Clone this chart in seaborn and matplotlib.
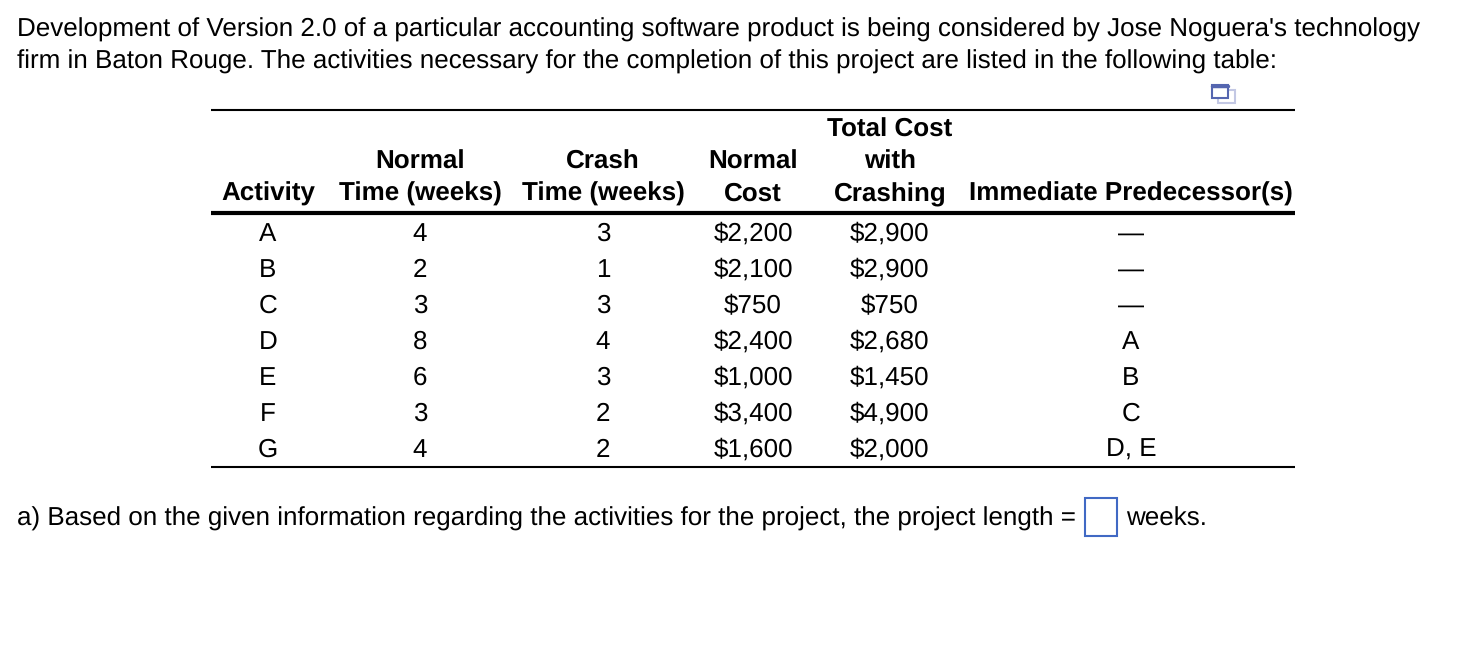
import matplotlib.pyplot as plt
import seaborn as sns
import pandas as pd
from matplotlib.patches import Rectangle

# table values
activity = ["A", "B", "C", "D", "E", "F", "G"]
normal_time = [4, 2, 3, 8, 6, 3, 4]
crash_time = [3, 1, 3, 4, 3, 2, 2]
normal_cost = ["$2,200", "$2,100", "$750", "$2,400", "$1,000", "$3,400", "$1,600"]
crash_cost = ["$2,900", "$2,900", "$750", "$2,680", "$1,450", "$4,900", "$2,000"]
predecessors = ["—", "—", "—", "A", "B", "C", "D, E"]

intro = ["Development of Version 2.0 of a particular accounting software product is being considered by Jose Noguera's technology",
         "firm in Baton Rouge. The activities necessary for the completion of this project are listed in the following table:"]
question = "a) Based on the given information regarding the activities for the project, the project length ="

df = pd.DataFrame({
    "Activity": activity,
    "Normal\nTime (weeks)": normal_time,
    "Crash\nTime (weeks)": crash_time,
    "Normal\nCost": normal_cost,
    "Total Cost\nwith\nCrashing": crash_cost,
    "Immediate Predecessor(s)": predecessors,
})

sns.set_theme(style="white")
plt.rcParams['font.family'] = ['Liberation Sans', 'DejaVu Sans']
plt.rcParams['text.hinting'] = 'none'

fs = 18.72
fig = plt.figure(figsize=(14.62, 6.6), dpi=100)
ax = fig.add_axes([0, 0, 1, 1])
ax.set_xlim(0, 1462)
ax.set_ylim(660, 0)
ax.axis("off")

# intro text
ax.text(17, 37, intro[0], fontsize=fs, va="baseline", color="black")
ax.text(17, 69, intro[1], fontsize=fs, va="baseline", color="black")

# table
col_x = [268, 420, 603, 753, 890, 1131]
row_y = [241, 277, 313, 349, 385, 421, 457]
line_h = 32
for x, col in zip(col_x, df.columns):
    parts = col.split("\n")
    for i, part in enumerate(reversed(parts)):
        ax.text(x, 201 - i * line_h, part, fontsize=fs, fontweight="bold", ha="center", va="baseline", color="black")
    for y, val in zip(row_y, df[col]):
        ax.text(x, y, str(val), fontsize=fs, ha="center", va="baseline", color="black")

ax.plot([211, 1295], [110, 110], color="black", lw=1.5, solid_capstyle="butt")
ax.plot([211, 1295], [213, 213], color="black", lw=3, solid_capstyle="butt")
ax.plot([211, 1295], [467, 467], color="black", lw=1.5, solid_capstyle="butt")

# little copy icon
ax.add_patch(Rectangle((1218, 90), 17, 13, fill=False, ec="#c3c8e4", lw=1.5))
ax.add_patch(Rectangle((1212, 85), 16, 13, fc="white", ec="#5566b0", lw=1.5))
ax.plot([1212, 1228], [86, 86], color="#5566b0", lw=2.5)

# question line
ax.text(17, 526, question, fontsize=fs, va="baseline", color="black")
ax.add_patch(Rectangle((1085, 498), 32, 38, fill=False, ec="#4169c4", lw=1.5))
ax.text(1126, 526, "weeks.", fontsize=fs, va="baseline", color="black")

fig.savefig("out.png", dpi=100)
